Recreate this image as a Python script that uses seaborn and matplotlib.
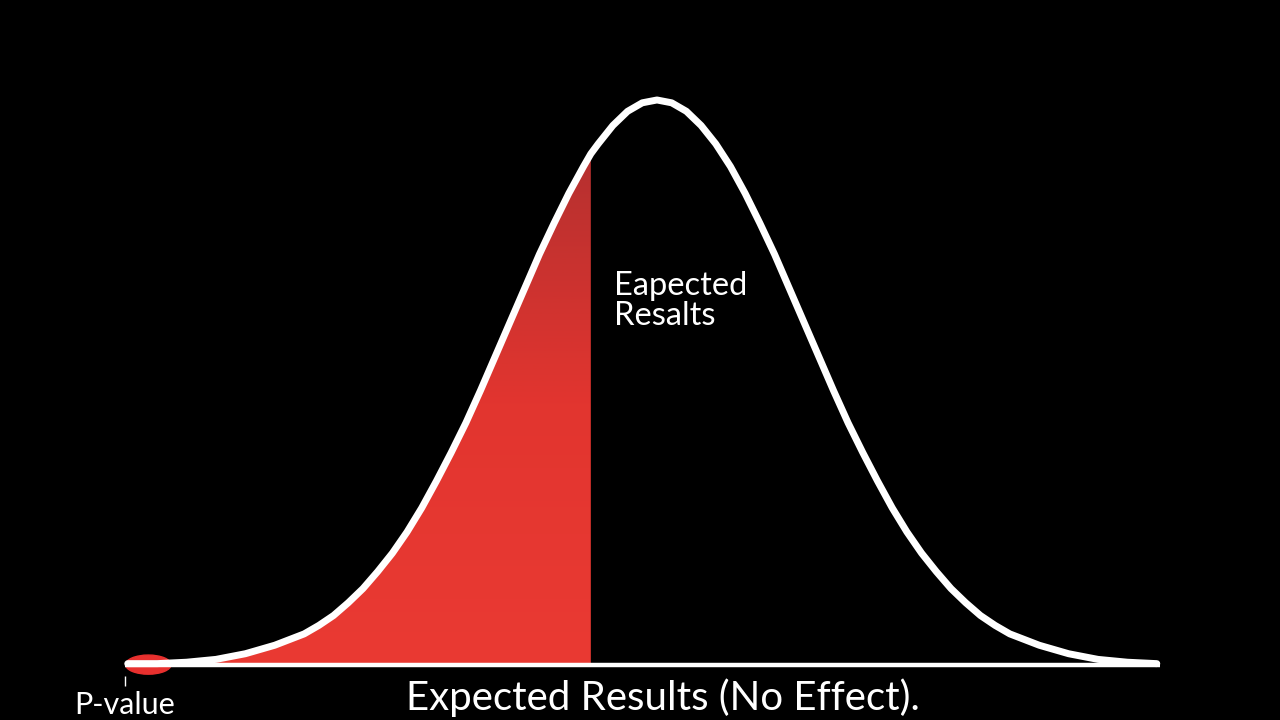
import numpy as np
import matplotlib
matplotlib.use("Agg")
import matplotlib.pyplot as plt
import seaborn as sns
import pandas as pd
from matplotlib.patches import Ellipse

##### Data (x in standard deviations, y as density)

z_values = [-3.6, -3.4, -3.2, -3.0, -2.8, -2.6, -2.5, -2.4, -2.3, -2.2, -2.1,
            -2.0, -1.9, -1.8, -1.7, -1.6, -1.5, -1.4, -1.3, -1.2, -1.1,
            -1.0, -0.9, -0.8, -0.7, -0.6, -0.5, -0.45, -0.4, -0.3, -0.2, -0.1,
            0.0, 0.1, 0.2, 0.3, 0.4, 0.5, 0.6, 0.7, 0.8, 0.9,
            1.0, 1.1, 1.2, 1.3, 1.4, 1.5, 1.6, 1.7, 1.8, 1.9,
            2.0, 2.1, 2.2, 2.3, 2.4, 2.5, 2.6, 2.8, 3.0, 3.2, 3.4]
density = [0.001, 0.001, 0.002, 0.004, 0.008, 0.014, 0.018, 0.022, 0.028, 0.035, 0.044,
           0.054, 0.066, 0.079, 0.094, 0.111, 0.130, 0.150, 0.171, 0.194, 0.218,
           0.242, 0.266, 0.290, 0.312, 0.333, 0.352, 0.361, 0.368, 0.381, 0.391, 0.397,
           0.399, 0.397, 0.391, 0.381, 0.368, 0.352, 0.333, 0.312, 0.290, 0.266,
           0.242, 0.218, 0.194, 0.171, 0.150, 0.130, 0.111, 0.094, 0.079, 0.066,
           0.054, 0.044, 0.035, 0.028, 0.022, 0.018, 0.014, 0.008, 0.004, 0.002, 0.001]

cutoff_z = -0.45
axis_start, axis_end = -3.62, 3.42
p_value_z = -3.46

curve_label = "Eapected\nResalts"
axis_label = "Expected Results (No Effect)."
p_label = "P-value"

df = pd.DataFrame({"z": z_values, "density": density})
tail = df[df["z"] <= cutoff_z]

##### Style

sns.set_theme(style="dark", rc={"axes.facecolor": "black", "figure.facecolor": "black"})
plt.rcParams["font.family"] = ["Lato", "DejaVu Sans"]

fig = plt.figure(figsize=(12.8, 7.2), dpi=100)
ax = fig.add_axes([0, 0, 1, 1])
ax.set_facecolor("black")

##### Shaded tail with a soft vertical gradient

poly = ax.fill_between(tail["z"], 0, tail["density"], color="none", lw=0)
grad = np.linspace(0, 1, 256).reshape(-1, 1)
cmap = matplotlib.colors.LinearSegmentedColormap.from_list(
    "redfade", ["#ea3a33", "#e2352f", "#b3302f"])
img = ax.imshow(grad, cmap=cmap, aspect="auto", origin="lower",
                extent=[axis_start, cutoff_z, 0, 0.37], zorder=1)
img.set_clip_path(poly.get_paths()[0], transform=ax.transData)

##### Curve and baseline

ax.add_patch(Ellipse((p_value_z, 0.0003), 0.31, 0.0135, color="#e8302e", zorder=2))

sns.lineplot(data=df, x="z", y="density", color="white", lw=5.0, ax=ax, zorder=3,
             solid_capstyle="round", solid_joinstyle="round")
ax.hlines(0, axis_start, axis_end, color="white", lw=3.2, zorder=3)
ax.vlines(axis_start, -0.0080, -0.0150, color="white", lw=1.0, zorder=3)

##### Text

ax.text(-0.29, 0.2780, curve_label, color="white", fontsize=23.5, va="top", ha="left",
        linespacing=0.98, zorder=4)
ax.text(0.04, -0.0095, axis_label, color="white", fontsize=29, va="top", ha="center", zorder=4)
ax.text(-3.62, -0.0182, p_label, color="white", fontsize=22, va="top", ha="center", zorder=4)

ax.set_xlim(-4.469, 4.238)
ax.set_ylim(-0.0388, 0.4696)
ax.set_xlabel("")
ax.set_ylabel("")
ax.set_xticks([])
ax.set_yticks([])
for s in ax.spines.values():
    s.set_visible(False)

fig.savefig("out.png", dpi=100, facecolor="black")
